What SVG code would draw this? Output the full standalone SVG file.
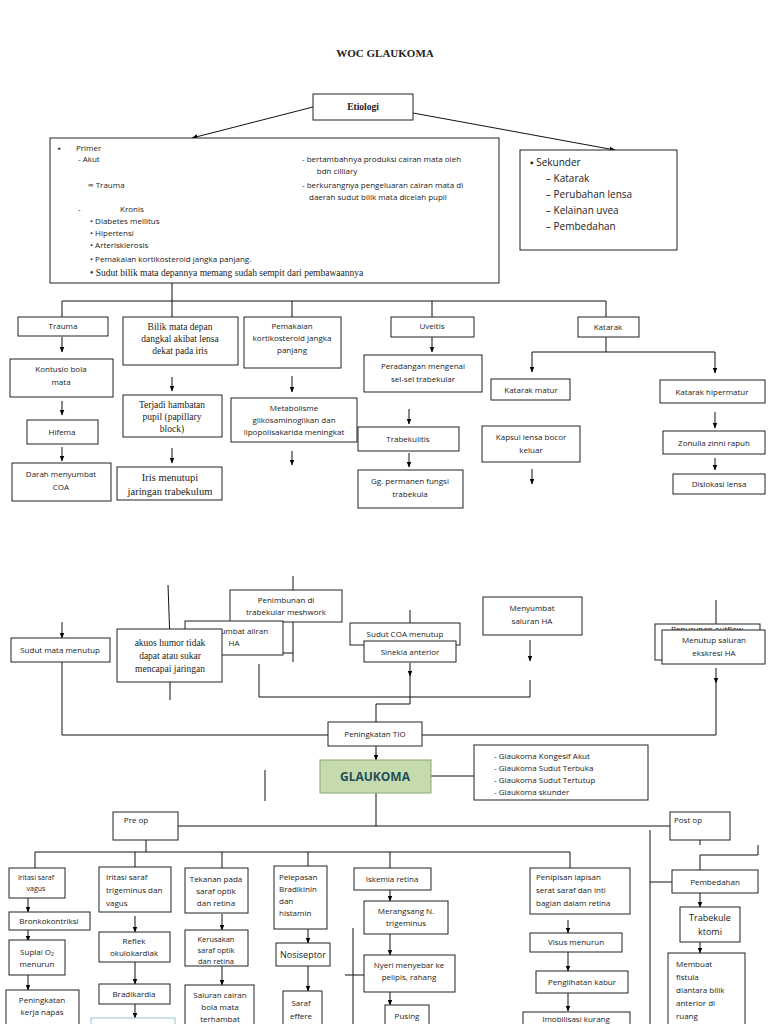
<svg xmlns="http://www.w3.org/2000/svg" width="768" height="1024" viewBox="0 0 768 1024">
<defs>
<marker id="a" viewBox="0 0 10 10" refX="9" refY="5" markerWidth="6" markerHeight="6" orient="auto"><path d="M0,1 L10,5 L0,9z" fill="#000"/></marker>
</defs>
<style>
rect{fill:#fff;stroke:#222;stroke-width:1}
text{font-family:"Open Sans","Liberation Sans",sans-serif;font-size:8px;fill:#222;text-anchor:middle}
.s{font-family:"Liberation Serif",serif;font-size:9.5px}
.l{text-anchor:start}
#c line,#c polyline{stroke:#111;stroke-width:1;fill:none}
.ar{marker-end:url(#a)}
</style>
<rect x="0" y="0" width="768" height="1024" style="stroke:none"/>
<text x="385" y="57" class="s" style="font-weight:bold;font-size:11px">WOC GLAUKOMA</text>
<g id="c">
<line class="ar" x1="313" y1="107" x2="192" y2="138"/>
<line class="ar" x1="413" y1="113" x2="615" y2="150"/>
<polyline points="172,283 172,301"/>
<line x1="62" y1="301" x2="606" y2="301"/>
<line x1="62" y1="301" x2="62" y2="317"/><line x1="172" y1="301" x2="172" y2="317"/><line x1="292" y1="301" x2="292" y2="317"/><line x1="432" y1="301" x2="432" y2="317"/><line x1="606" y1="301" x2="606" y2="317"/>
<line class="ar" x1="62" y1="337" x2="62" y2="352"/><line class="ar" x1="62" y1="401" x2="62" y2="415"/><line class="ar" x1="62" y1="447" x2="62" y2="461"/>
<line class="ar" x1="172" y1="377" x2="172" y2="391"/><line class="ar" x1="172" y1="448" x2="172" y2="463"/>
<line class="ar" x1="292" y1="376" x2="292" y2="392"/><line class="ar" x1="292" y1="451" x2="292" y2="465"/>
<line class="ar" x1="432" y1="337" x2="432" y2="352"/><line class="ar" x1="409" y1="409" x2="409" y2="424"/><line class="ar" x1="409" y1="453" x2="409" y2="467"/>
<polyline points="606,337 606,352"/><line x1="532" y1="352" x2="715" y2="352"/><line class="ar" x1="532" y1="352" x2="532" y2="372"/><line class="ar" x1="715" y1="352" x2="715" y2="373"/>
<line class="ar" x1="532" y1="469" x2="532" y2="484"/><line class="ar" x1="715" y1="412" x2="715" y2="428"/><line class="ar" x1="715" y1="458" x2="715" y2="470"/>
<line x1="293" y1="576" x2="293" y2="662"/><polyline points="283,653 293,653"/>
<line class="ar" x1="168" y1="585" x2="170" y2="641"/><line x1="170" y1="682" x2="170" y2="700"/>
<line class="ar" x1="62" y1="622" x2="62" y2="638"/><line x1="62" y1="662" x2="62" y2="735"/><line x1="62" y1="735" x2="328" y2="735"/>
<line class="ar" x1="410" y1="610" x2="410" y2="634"/><line class="ar" x1="410" y1="663" x2="410" y2="676"/><polyline points="410,676 410,704 376,704 376,722"/>
<polyline points="259,664 259,697 530,697 530,680"/><line class="ar" x1="530" y1="640" x2="530" y2="661"/>
<line x1="716" y1="600" x2="716" y2="628"/><line class="ar" x1="716" y1="668" x2="716" y2="683"/><polyline points="716,683 716,735 422,735"/>
<line class="ar" x1="376" y1="746" x2="376" y2="760"/><line x1="431" y1="776" x2="474" y2="776"/><line x1="265" y1="770" x2="265" y2="801"/>
<line x1="376" y1="793" x2="376" y2="826"/><line x1="178" y1="826" x2="670" y2="826"/>
<line x1="146" y1="840" x2="146" y2="852"/><line x1="35" y1="852" x2="570" y2="852"/>
<line x1="35" y1="852" x2="35" y2="868"/><line x1="135" y1="852" x2="135" y2="867"/><line x1="222" y1="852" x2="222" y2="868"/><line x1="308" y1="852" x2="308" y2="866"/><line x1="390" y1="852" x2="390" y2="868"/><line x1="570" y1="852" x2="570" y2="868"/>
<line class="ar" x1="28" y1="898" x2="28" y2="912"/><line class="ar" x1="28" y1="930" x2="28" y2="941"/><line class="ar" x1="28" y1="975" x2="28" y2="990"/>
<line class="ar" x1="135" y1="916" x2="135" y2="932"/><line class="ar" x1="135" y1="962" x2="135" y2="984"/><line class="ar" x1="135" y1="1004" x2="135" y2="1018"/>
<line class="ar" x1="222" y1="914" x2="222" y2="930"/><line class="ar" x1="222" y1="966" x2="222" y2="985"/>
<line class="ar" x1="308" y1="929" x2="308" y2="943"/><line class="ar" x1="308" y1="966" x2="308" y2="991"/><line x1="304" y1="1000" x2="304" y2="1024"/>
<line class="ar" x1="390" y1="890" x2="390" y2="901"/><line class="ar" x1="390" y1="934" x2="390" y2="955"/><line class="ar" x1="390" y1="992" x2="390" y2="1005"/>
<line x1="353" y1="928" x2="353" y2="1024"/><line x1="345" y1="975" x2="364" y2="975"/>
<line class="ar" x1="568" y1="920" x2="568" y2="933"/><line class="ar" x1="568" y1="952" x2="568" y2="971"/><line class="ar" x1="568" y1="993" x2="568" y2="1011"/>
<line x1="700" y1="840" x2="700" y2="845"/>
<line x1="650" y1="830" x2="650" y2="1024"/><line x1="650" y1="882" x2="672" y2="882"/>
<polyline points="700,870 700,855 758,855 758,845"/>
<line class="ar" x1="700" y1="893" x2="700" y2="907"/><line class="ar" x1="700" y1="942" x2="700" y2="953"/>
<line x1="740" y1="990" x2="740" y2="1024"/>
</g>
<g id="etiologi"><rect x="313" y="94" width="100" height="26"/><text x="363" y="110" class="s" style="font-weight:bold">Etiologi</text></g>
<g id="primer"><rect x="50" y="138" width="449" height="145"/>
<text class="l" x="58" y="151">▪</text><text class="l" x="76" y="151">Primer</text>
<text class="l" x="78" y="162">-   Akut</text>
<text class="l" x="88" y="188">∞  Trauma</text>
<text class="l" x="78" y="212">-</text><text class="l" x="120" y="212">Kronis</text>
<text class="l" x="90" y="224">•   Diabetes mellitus</text>
<text class="l" x="90" y="236">•   Hipertensi</text>
<text class="l" x="90" y="248">•   Arterisklerosis</text>
<text class="l" x="90" y="262">•   Pemakaian kortikosteroid jangka panjang.</text>
<text class="l s" x="90" y="276">•   Sudut bilik mata depannya memang sudah sempit dari pembawaannya</text>
<text class="l" x="302" y="162">- bertambahnya produksi cairan mata oleh</text>
<text x="337" y="174">bdn cilliary</text>
<text class="l" x="302" y="188">- berkurangnya pengeluaran cairan mata di</text>
<text class="l" x="309" y="200">daerah sudut bilik mata dicelah pupil</text>
</g>
<g id="sekunder"><rect x="520" y="150" width="157" height="100"/>
<text class="l" x="530" y="166" style="font-size:10px">▪   Sekunder</text>
<text class="l" x="546" y="182" style="font-size:10px">–  Katarak</text>
<text class="l" x="546" y="198" style="font-size:10px">–  Perubahan lensa</text>
<text class="l" x="546" y="214" style="font-size:10px">–  Kelainan uvea</text>
<text class="l" x="546" y="230" style="font-size:10px">–  Pembedahan</text>
</g>
<g id="trauma"><rect x="18" y="317" width="90" height="19"/><text x="63" y="329">Trauma</text></g>
<g id="bilik"><rect x="123" y="317" width="115" height="48"/><text class="s" x="180" y="330">Bilik mata depan</text><text class="s" x="180" y="342">dangkal akibat lensa</text><text class="s" x="180" y="354">dekat pada iris</text></g>
<g id="pemakaian"><rect x="244" y="317" width="97" height="51"/><text x="292" y="329">Pemakaian</text><text x="292" y="341">kortikosteroid jangka</text><text x="292" y="353">panjang</text></g>
<g id="uveitis"><rect x="391" y="317" width="83" height="20"/><text x="432" y="329">Uveitis</text></g>
<g id="katarak"><rect x="578" y="317" width="61" height="20"/><text x="608" y="330">Katarak</text></g>
<g id="kontusio"><rect x="10" y="359" width="103" height="38"/><text x="61" y="372">Kontusio bola</text><text x="61" y="385">mata</text></g>
<g id="hifema"><rect x="27" y="420" width="71" height="24"/><text x="62" y="435">Hifema</text></g>
<g id="darah"><rect x="12" y="463" width="99" height="38"/><text x="61" y="477">Darah menyumbat</text><text x="61" y="490">COA</text></g>
<g id="terjadi"><rect x="123" y="395" width="99" height="42"/><text class="s" x="172" y="408">Terjadi hambatan</text><text class="s" x="172" y="420">pupil (papillary</text><text class="s" x="172" y="432">block)</text></g>
<g id="iris"><rect x="117" y="467" width="105" height="33"/><text class="s" x="170" y="481" style="font-size:10.5px">Iris menutupi</text><text class="s" x="170" y="495" style="font-size:10.5px">jaringan trabekulum</text></g>
<g id="metabolisme"><rect x="231" y="398" width="126" height="44"/><text x="294" y="411">Metabolisme</text><text x="294" y="423">glikosaminoglikan dan</text><text x="294" y="435">lipopolisakarida meningkat</text></g>
<g id="peradangan"><rect x="364" y="355" width="118" height="37"/><text x="423" y="369">Peradangan mengenai</text><text x="423" y="382">sel-sel trabekular</text></g>
<g id="trabekulitis"><rect x="358" y="427" width="101" height="24"/><text x="408" y="442">Trabekulitis</text></g>
<g id="gg"><rect x="358" y="470" width="105" height="38"/><text x="410" y="484">Gg. permanen fungsi</text><text x="410" y="497">trabekula</text></g>
<g id="matur"><rect x="491" y="379" width="79" height="21"/><text x="531" y="393">Katarak matur</text></g>
<g id="kapsul"><rect x="482" y="426" width="98" height="36"/><text x="531" y="440">Kapsul lensa bocor</text><text x="531" y="453">keluar</text></g>
<g id="hipermatur"><rect x="660" y="380" width="105" height="23"/><text x="712" y="395">Katarak hipermatur</text></g>
<g id="zonulla"><rect x="663" y="431" width="102" height="23"/><text x="714" y="446">Zonulla zinni rapuh</text></g>
<g id="dislokasi"><rect x="673" y="474" width="92" height="20"/><text x="719" y="487">Dislokasi lensa</text></g>
<g id="penimbunan"><rect x="230" y="590" width="112" height="32"/><text x="286" y="603">Penimbunan di</text><text x="286" y="615">trabekular meshwork</text></g>
<g id="menyumbataliran"><rect x="185" y="621" width="98" height="34"/><text x="234" y="634">Menyumbat aliran</text><text x="234" y="646">HA</text></g>
<g id="akuos"><rect x="117" y="629" width="105" height="53"/><text class="s" x="170" y="646">akuos humor tidak</text><text class="s" x="170" y="659">dapat atau sukar</text><text class="s" x="170" y="672">mencapai jaringan</text></g>
<g id="sudutmata"><rect x="11" y="638" width="99" height="24"/><text x="60" y="653">Sudut mata menutup</text></g>
<g id="sudutcoa"><rect x="350" y="623" width="110" height="22"/><text x="405" y="637">Sudut COA menutup</text></g>
<g id="sinekia"><rect x="364" y="641" width="92" height="21"/><text x="410" y="655">Sinekia anterior</text></g>
<g id="menyumbatsaluran"><rect x="483" y="597" width="99" height="38"/><text x="532" y="611">Menyumbat</text><text x="532" y="624">saluran HA</text></g>
<g id="penurunan"><rect x="655" y="624" width="105" height="36"/><text x="707" y="632">Penurunan outflow</text></g>
<g id="menutupsaluran"><rect x="662" y="630" width="103" height="34"/><text x="714" y="643">Menutup saluran</text><text x="714" y="656">ekskresi HA</text></g>
<g id="tio"><rect x="328" y="722" width="94" height="24"/><text x="375" y="737">Peningkatan TIO</text></g>
<g id="glaukoma"><rect x="320" y="760" width="111" height="33" style="fill:#c5dbae;stroke:#8aa870"/><text x="375" y="781" style="font-weight:bold;font-size:12px;fill:#1f4e5a">GLAUKOMA</text></g>
<g id="jenis"><rect x="474" y="745" width="174" height="55"/>
<text class="l" x="494" y="759">-     Glaukoma Kongesif Akut</text><text class="l" x="494" y="771">-     Glaukoma Sudut Terbuka</text><text class="l" x="494" y="783">-     Glaukoma Sudut Tertutup</text><text class="l" x="494" y="795">-     Glaukoma skunder</text></g>
<g id="preop"><rect x="113" y="812" width="65" height="28"/><text x="136" y="823">Pre op</text></g>
<g id="postop"><rect x="670" y="812" width="60" height="28"/><text x="688" y="823">Post op</text></g>
<g id="n1"><rect x="9" y="868" width="56" height="30"/><text x="36" y="880" style="font-size:7px">Iritasi saraf</text><text x="36" y="891" style="font-size:7px">vagus</text></g>
<g id="n2"><rect x="9" y="912" width="81" height="18"/><text x="49" y="924">Bronkokontriksi</text></g>
<g id="n3"><rect x="9" y="940" width="56" height="35"/><text x="37" y="955">Suplai O₂</text><text x="37" y="967">menurun</text></g>
<g id="n4"><rect x="6" y="990" width="73" height="40"/><text x="42" y="1003">Peningkatan</text><text x="42" y="1015">kerja napas</text></g>
<g id="n5"><rect x="99" y="867" width="72" height="45"/><text class="l" x="106" y="880">Iritasi       saraf</text><text class="l" x="106" y="893">trigeminus  dan</text><text class="l" x="106" y="906">vagus</text></g>
<g id="n6"><rect x="99" y="932" width="71" height="30"/><text x="134" y="944">Reflek</text><text x="134" y="956">okulokardiak</text></g>
<g id="n7"><rect x="99" y="984" width="71" height="20"/><text x="134" y="997">Bradikardia</text></g>
<g id="n8"><rect x="91" y="1018" width="84" height="12" style="stroke:#9cc3d5"/></g>
<g id="n9"><rect x="185" y="868" width="63" height="45"/><text x="216" y="882">Tekanan pada</text><text x="216" y="894">saraf optik</text><text x="216" y="906">dan retina</text></g>
<g id="n10"><rect x="185" y="930" width="63" height="36"/><text x="216" y="942" style="font-size:7.5px">Kerusakan</text><text x="216" y="953" style="font-size:7.5px">saraf optik</text><text x="216" y="964" style="font-size:7.5px">dan retina</text></g>
<g id="n11"><rect x="185" y="985" width="69" height="45"/><text x="220" y="998">Saluran cairan</text><text x="220" y="1010">bola mata</text><text x="220" y="1022">terhambat</text></g>
<g id="n12"><rect x="274" y="866" width="53" height="63"/><text class="l" x="279" y="880">Pelepasan</text><text class="l" x="279" y="892">Bradikinin</text><text class="l" x="279" y="904">dan</text><text class="l" x="279" y="916">histamin</text></g>
<g id="n13"><rect x="276" y="943" width="54" height="23"/><text x="303" y="958" style="font-size:9px">Nosiseptor</text></g>
<g id="n14"><rect x="283" y="991" width="39" height="40"/><text x="301" y="1006">Saraf</text><text x="301" y="1019">effere</text></g>
<g id="n15"><rect x="354" y="868" width="77" height="22"/><text x="392" y="882">Iskemia retina</text></g>
<g id="n16"><rect x="364" y="901" width="84" height="33"/><text x="406" y="914">Merangsang N.</text><text x="406" y="926">trigeminus</text></g>
<g id="n17"><rect x="364" y="955" width="91" height="37"/><text x="409" y="968">Nyeri menyebar ke</text><text x="409" y="980">pelipis, rahang</text></g>
<g id="n18"><rect x="385" y="1005" width="44" height="25"/><text x="407" y="1019">Pusing</text></g>
<g id="n19"><rect x="530" y="868" width="100" height="46"/><text class="l" x="536" y="880">Penipisan        lapisan</text><text class="l" x="536" y="893">serat saraf dan inti</text><text class="l" x="536" y="906">bagian dalam retina</text></g>
<g id="n20"><rect x="530" y="933" width="92" height="19"/><text x="576" y="945">Visus menurun</text></g>
<g id="n21"><rect x="536" y="971" width="92" height="22"/><text x="582" y="985">Penglihatan kabur</text></g>
<g id="n22"><rect x="523" y="1012" width="107" height="20"/><text x="576" y="1022">Imobilisasi kurang</text></g>
<g id="n23"><rect x="672" y="870" width="86" height="23"/><text x="715" y="885">Pembedahan</text></g>
<g id="n24"><rect x="680" y="907" width="60" height="35"/><text x="710" y="921" style="font-size:9px">Trabekule</text><text x="710" y="935" style="font-size:9px">ktomi</text></g>
<g id="n25"><rect x="668" y="953" width="77" height="75"/><text class="l" x="676" y="967">Membuat</text><text class="l" x="676" y="980">fistula</text><text class="l" x="676" y="993">diantara  bilik</text><text class="l" x="676" y="1006">anterior      di</text><text class="l" x="676" y="1019">ruang</text></g>
</svg>
